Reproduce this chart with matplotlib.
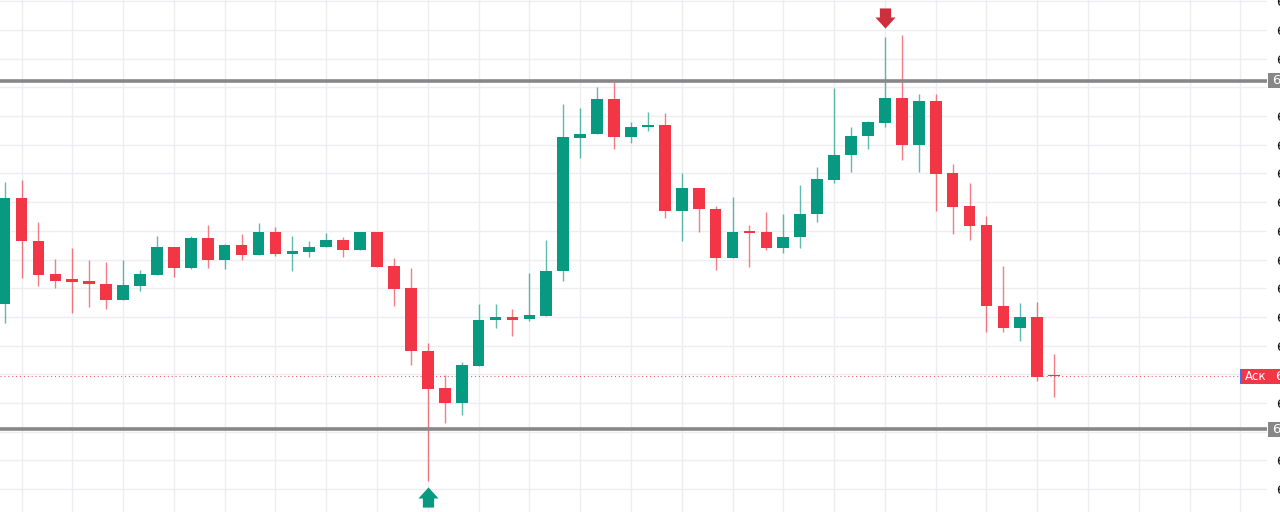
import matplotlib
matplotlib.use('Agg')
import matplotlib.pyplot as plt
import numpy as np
from matplotlib.patches import Rectangle
from matplotlib.path import Path
from matplotlib.transforms import IdentityTransform, offset_copy

# OHLC values, one per candle
opens = [6494.5, 6531.6, 6516.5, 6504.9, 6503.1, 6502.6, 6501.6, 6495.9, 6500.8, 6504.6,
         6514.3, 6507.2, 6517.4, 6509.9, 6515.1, 6511.6, 6519.7, 6512.1, 6512.8, 6514.3,
         6516.7, 6513.3, 6519.7, 6507.8, 6500.0, 6478.3, 6465.2, 6460.0, 6472.9, 6488.9,
         6490.0, 6489.2, 6490.3, 6505.9, 6552.5, 6553.8, 6565.9, 6552.8, 6556.1, 6556.8,
         6526.9, 6535.1, 6527.7, 6510.5, 6519.9, 6519.6, 6513.9, 6517.9, 6525.8, 6537.8,
         6546.3, 6553.1, 6557.6, 6566.2, 6549.9, 6565.3, 6540.1, 6528.7, 6522.0, 6493.9,
         6486.3, 6489.9, 6469.4]
highs = [6537.1, 6537.7, 6523.2, 6510.3, 6513.9, 6509.9, 6509.2, 6509.9, 6506.4, 6518.3,
         6514.3, 6518.1, 6522.0, 6515.4, 6518.8, 6522.6, 6521.3, 6518.3, 6516.5, 6519.4,
         6517.8, 6519.7, 6519.7, 6510.7, 6507.0, 6480.8, 6469.7, 6474.3, 6494.5, 6494.5,
         6492.9, 6505.2, 6516.8, 6564.3, 6562.9, 6570.0, 6571.9, 6558.0, 6561.5, 6561.0,
         6540.3, 6535.1, 6528.7, 6531.7, 6522.1, 6526.5, 6525.9, 6536.0, 6542.4, 6569.7,
         6556.3, 6558.4, 6587.7, 6588.3, 6567.6, 6567.6, 6543.3, 6536.8, 6525.1, 6507.8,
         6494.8, 6495.2, 6477.0]
lows = [6488.0, 6503.7, 6500.8, 6500.0, 6491.3, 6493.6, 6492.7, 6495.9, 6499.2, 6504.6,
        6504.0, 6506.6, 6507.2, 6506.6, 6509.9, 6511.6, 6511.4, 6506.0, 6511.0, 6514.3,
        6511.0, 6513.3, 6507.5, 6493.9, 6473.3, 6432.9, 6453.0, 6456.0, 6472.9, 6486.3,
        6483.5, 6488.5, 6490.3, 6502.6, 6545.3, 6553.8, 6548.4, 6550.5, 6554.9, 6524.4,
        6516.6, 6519.7, 6506.4, 6510.5, 6507.5, 6513.3, 6512.3, 6513.9, 6523.2, 6536.8,
        6540.6, 6548.5, 6556.3, 6544.7, 6540.6, 6526.9, 6518.8, 6516.8, 6484.7, 6484.7,
        6481.6, 6467.8, 6462.0]
closes = [6531.6, 6516.4, 6504.6, 6502.6, 6502.3, 6501.5, 6495.9, 6501.0, 6504.9, 6514.3,
          6507.2, 6517.4, 6509.9, 6515.1, 6511.6, 6519.7, 6511.9, 6512.9, 6514.4, 6516.7,
          6513.3, 6519.7, 6507.5, 6499.8, 6478.2, 6464.9, 6460.0, 6473.2, 6489.1, 6490.0,
          6489.1, 6490.6, 6506.1, 6552.6, 6553.9, 6565.9, 6552.8, 6556.1, 6556.8, 6526.9,
          6535.1, 6527.6, 6510.5, 6519.6, 6519.4, 6513.9, 6518.0, 6525.8, 6538.1, 6546.4,
          6553.2, 6557.8, 6566.2, 6549.9, 6565.3, 6539.8, 6528.4, 6521.7, 6493.8, 6486.3,
          6489.9, 6469.2, 6469.3]

resistance = 6572.3
support = 6450.9
ask_price = 6469.4
arrow_up_bar = 25     # buy signal under this candle
arrow_down_bar = 52   # sell signal above this candle

GREEN = '#089981'
RED = '#f23645'
GRID = '#eceef2'
LEVEL = '#878787'

W, H = 1280, 512
fig = plt.figure(figsize=(W / 100, H / 100), dpi=100)
fig.patch.set_facecolor('white')
ax = fig.add_axes([0, 0, 1267 / W, 1])

n = len(opens)
x = np.arange(n)
o = np.array(opens)
c = np.array(closes)
up = c >= o
cols = np.where(up, GREEN, RED)

ax.set_xlim(-0.27, 74.57)
ax.set_ylim(6422.05, 6600.45)

# grid
for gx in np.arange(1, 75, 3):
    ax.axvline(gx, color=GRID, lw=1, zorder=0)
yticks = np.arange(6430, 6601, 10)
for gy in yticks:
    ax.axhline(gy, color=GRID, lw=1, zorder=0)

# wicks + bodies
ax.vlines(x, lows, highs, colors=cols, lw=1, alpha=0.65, zorder=2)
bottoms = np.minimum(o, c)
heights = np.maximum(np.abs(c - o), 0.45)
ax.bar(x, heights, bottom=bottoms, width=0.69, color=cols, lw=0, zorder=3)

# levels
ax.axhline(resistance, color=LEVEL, lw=2.6, zorder=4)
ax.axhline(support, color=LEVEL, lw=2.6, zorder=4)
ax.axhline(ask_price, color=RED, lw=0.8, ls=(0, (1, 2.5)), alpha=0.8, zorder=1)

# signal arrows
down_path = Path([(-0.28, 0.5), (0.28, 0.5), (0.28, 0.05), (0.5, 0.05), (0, -0.5),
                  (-0.5, 0.05), (-0.28, 0.05), (-0.28, 0.5)],
                 [Path.MOVETO] + [Path.LINETO] * 6 + [Path.CLOSEPOLY])
up_path = Path(down_path.vertices * np.array([1, -1]), down_path.codes)
t_down = offset_copy(ax.transData, fig=fig, x=0, y=18.5, units='dots')
t_up = offset_copy(ax.transData, fig=fig, x=0, y=-16.5, units='dots')
ax.plot(arrow_down_bar, highs[arrow_down_bar], marker=down_path, ms=14.5, color='#cf2f3d',
        mew=0, transform=t_down, clip_on=False, zorder=5)
ax.plot(arrow_up_bar, lows[arrow_up_bar], marker=up_path, ms=14.5, color=GREEN,
        mew=0, transform=t_up, clip_on=False, zorder=5)

# right price scale (cut off by the image edge); labels under the level tags are hidden
covered = {6450, 6470, 6570}
ax.yaxis.tick_right()
ax.set_yticks(yticks)
ax.set_yticklabels(['' if int(v) in covered else f'{v:.1f}' for v in yticks])
ax.tick_params(axis='y', length=0, pad=6.5, labelsize=9.5, labelcolor='#131722')
ax.set_xticks([])
for s in ax.spines.values():
    s.set_visible(False)


def py(price):
    return ax.transData.transform((0, price))[1]


ident = IdentityTransform()
for lvl in (resistance, support):
    yy = py(lvl)
    fig.patches.append(Rectangle((1268, yy - 7.5), 20, 15, fc=LEVEL, ec='none',
                                 transform=ident, figure=fig, zorder=5))
    fig.text(1272.5 / W, yy / H, f'{lvl:.1f}', color='white', fontsize=9.5,
             va='center', ha='left', zorder=6)

yy = py(ask_price)
fig.patches.append(Rectangle((1240, yy - 7.5), 45, 15, fc=RED, ec='none',
                             transform=ident, figure=fig, zorder=5))
fig.patches.append(Rectangle((1240, yy - 7.5), 1.2, 15, fc='#3d6df2', ec='none',
                             transform=ident, figure=fig, zorder=6))
fig.patches.append(Rectangle((1267.5, yy - 7.5), 0.8, 15, fc='#f68a93', ec='none',
                             transform=ident, figure=fig, zorder=6))
fig.text(1245 / W, yy / H, 'Аск', color='white', fontsize=8.5, va='center', ha='left', zorder=7)
fig.text(1275.5 / W, yy / H, f'{ask_price:.1f}', color='white', fontsize=9.5,
         va='center', ha='left', zorder=7)

fig.savefig('out.png', dpi=100)
